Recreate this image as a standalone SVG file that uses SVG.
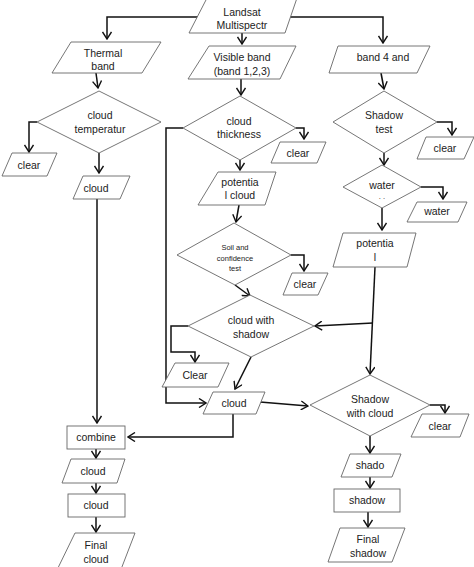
<svg xmlns="http://www.w3.org/2000/svg" width="474" height="567" viewBox="0 0 474 567">
<defs>
<marker id="ah" viewBox="0 0 10 10" refX="9" refY="5" markerWidth="10" markerHeight="10" markerUnits="userSpaceOnUse" orient="auto">
<path d="M2,0.5 L9,5 L2,9.5" fill="none" stroke="#111" stroke-width="1.4"/>
</marker>
</defs>
<style>
.s{fill:#fff;stroke:#666;stroke-width:0.9}
.t{font-family:"Liberation Sans",Arial,sans-serif;font-size:10.5px;fill:#222;text-anchor:middle}
.ts{font-family:"Liberation Sans",Arial,sans-serif;font-size:7.5px;fill:#222;text-anchor:middle}
.c{fill:none;stroke:#111;stroke-width:1.5}
.c path{marker-end:url(#ah)}
</style>
<rect width="474" height="567" fill="#fff"/>
<g id="connectors" class="c">
<path d="M199,17 L107,17 L107,39"/>
<path d="M287,17 L383,17 L383,43"/>
<path d="M242,33 L242,44"/>
<path d="M96,73 L98,88"/>
<path d="M37,122 L29,122 L29,152"/>
<path d="M99,153 L99,173"/>
<path d="M97,199 L97,423"/>
<path d="M96,449 L96,458"/>
<path d="M96,483 L96,493"/>
<path d="M96,517 L96,532"/>
<path d="M241,79 L241,95"/>
<path d="M296,128 L304,128 L304,139"/>
<path d="M183,128 L166,128 L166,403 L206,403"/>
<path d="M240,160 L240,170"/>
<path d="M239,205 L236,222"/>
<path d="M291,255 L304,255 L304,271"/>
<path d="M235,285 L250,296"/>
<path d="M188,326 L171,326 L171,352 L195,352 L195,362"/>
<path d="M251,357 L235,389"/>
<path d="M233,414 L233,437 L128,437"/>
<path d="M260,402 L308,406"/>
<path d="M381,73 L384,89"/>
<path d="M437,122 L452,122 L452,135"/>
<path d="M384,153 L384,165"/>
<path d="M421,187 L443,187 L443,199"/>
<path d="M382,208 L382,230"/>
<path d="M375,267 L370,374"/>
<path d="M373,323 L315,326"/>
<path d="M430,405 L445,405 L445,413"/>
<path d="M370,436 L370,453"/>
<path d="M370,477 L370,488"/>
<path d="M368,512 L368,527"/>
</g>
<g id="landsat"><polygon class="s" points="207,-2 297,-2 285,33 189,33"/><text class="t" x="242" y="16">Landsat</text><text class="t" x="242" y="29">Multispectr</text></g>
<g id="thermal"><polygon class="s" points="71,42 161,42 142,73 52,73"/><text class="t" x="103" y="57">Thermal</text><text class="t" x="103" y="70">band</text></g>
<g id="visible"><polygon class="s" points="209,46 296,46 280,79 188,79"/><text class="t" x="242" y="61">Visible band</text><text class="t" x="242" y="75">(band 1,2,3)</text></g>
<g id="band45"><polygon class="s" points="338,46 430,46 417,73 329,73"/><text class="t" x="383" y="61">band 4 and</text></g>
<g id="cloudtemp"><polygon class="s" points="99,91 161,122 99,153 37,122"/><text class="t" x="100" y="119">cloud</text><text class="t" x="100" y="133">temperatur</text></g>
<g id="clear1"><polygon class="s" points="12,153 57,153 47,176 2,176"/><text class="t" x="29" y="169">clear</text></g>
<g id="cloud1"><polygon class="s" points="83,176 130,176 120,199 73,199"/><text class="t" x="96" y="192">cloud</text></g>
<g id="combine"><rect class="s" x="67" y="426" width="58" height="23"/><text class="t" x="96" y="441">combine</text></g>
<g id="cloud2"><polygon class="s" points="71,459 125,459 117,483 62,483"/><text class="t" x="93" y="475">cloud</text></g>
<g id="cloud3"><rect class="s" x="68" y="494" width="57" height="23"/><text class="t" x="96" y="509">cloud</text></g>
<g id="finalcloud"><polygon class="s" points="75,533 135,533 120,572 56,572"/><text class="t" x="96" y="549">Final</text><text class="t" x="96" y="563">cloud</text></g>
<g id="thickness"><polygon class="s" points="240,96 296,128 240,160 183,128"/><text class="t" x="239" y="125">cloud</text><text class="t" x="239" y="138">thickness</text></g>
<g id="clear2"><polygon class="s" points="280,142 326,142 317,163 271,163"/><text class="t" x="298" y="157">clear</text></g>
<g id="potcloud"><polygon class="s" points="218,172 276,172 265,205 198,205"/><text class="t" x="240" y="186">potentia</text><text class="t" x="240" y="199">l cloud</text></g>
<g id="soil"><polygon class="s" points="234,223 291,255 235,285 177,255"/><text class="ts" x="235" y="250">Soil and</text><text class="ts" x="235" y="261">confidence</text><text class="ts" x="235" y="271">test</text></g>
<g id="clear3"><polygon class="s" points="292,273 328,273 318,295 283,295"/><text class="t" x="305" y="288">clear</text></g>
<g id="cloudshadow"><polygon class="s" points="250,295 314,326 251,357 188,326"/><text class="t" x="251" y="324">cloud with</text><text class="t" x="251" y="338">shadow</text></g>
<g id="clear4"><polygon class="s" points="175,363 229,363 218,387 162,387"/><text class="t" x="195" y="379">Clear</text></g>
<g id="cloudc"><polygon class="s" points="213,392 265,392 256,414 203,414"/><text class="t" x="234" y="407">cloud</text></g>
<g id="shadowtest"><polygon class="s" points="384,91 437,122 384,153 333,122"/><text class="t" x="384" y="119">Shadow</text><text class="t" x="384" y="133">test</text></g>
<g id="clear5"><polygon class="s" points="426,137 474,137 464,159 417,159"/><text class="t" x="445" y="152">clear</text></g>
<g id="water"><polygon class="s" points="382,165 421,187 382,208 343,187"/><text class="t" x="382" y="189">water</text><text class="ts" x="382" y="199">. .</text></g>
<g id="water2"><polygon class="s" points="417,202 467,202 458,222 407,222"/><text class="t" x="437" y="215">water</text></g>
<g id="potl"><polygon class="s" points="343,233 416,233 407,267 333,267"/><text class="t" x="375" y="247">potentia</text><text class="t" x="375" y="261">l</text></g>
<g id="shadowcloud"><polygon class="s" points="370,375 430,405 370,436 310,405"/><text class="t" x="370" y="403">Shadow</text><text class="t" x="370" y="417">with cloud</text></g>
<g id="clear6"><polygon class="s" points="422,414 469,414 460,437 411,437"/><text class="t" x="440" y="430">clear</text></g>
<g id="shado"><polygon class="s" points="350,454 401,454 392,477 341,477"/><text class="t" x="370" y="469">shado</text></g>
<g id="shadowrect"><rect class="s" x="334" y="489" width="66" height="23"/><text class="t" x="367" y="504">shadow</text></g>
<g id="finalshadow"><polygon class="s" points="340,528 405,528 392,562 328,562"/><text class="t" x="368" y="543">Final</text><text class="t" x="368" y="557">shadow</text></g>
</svg>
